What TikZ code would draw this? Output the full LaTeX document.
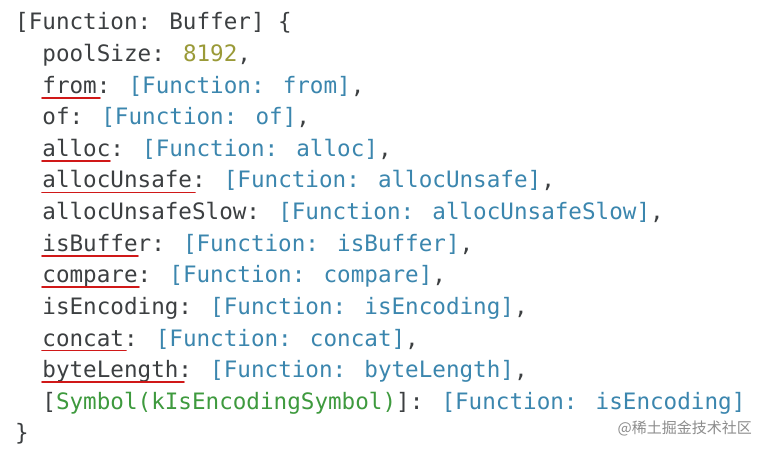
\documentclass[tikz,border=0pt]{standalone}
\usepackage{fontspec}
\newfontfamily\mono{DejaVu Sans Mono}
\newfontfamily\cjk{Noto Sans CJK SC}
\definecolor{txt}{HTML}{3C3F41}
\definecolor{num}{HTML}{9A9A38}
\definecolor{fn}{HTML}{3B86AE}
\definecolor{sym}{HTML}{3E9A3E}
\definecolor{ul}{HTML}{D01818}
\tikzset{x=1pt,y=-1pt,
 code/.style={anchor=base west,inner sep=0,font=\mono\fontsize{22.6}{24}\selectfont,text=txt},
 uline/.style={draw=ul,line width=1.8pt,line cap=round}}
\newcommand\F[1]{\textcolor{fn}{#1}}
\begin{document}
\begin{tikzpicture}
\fill[white] (0,0) rectangle (768,449);
\def\lh{31.6}
\node[code] (l0) at (15,30) {[Function: Buffer] \{};
\node[code] (l1) at (15,30+1*\lh) {\ \ poolSize: \textcolor{num}{8192},};
\node[code] (l2) at (15,30+2*\lh) {\ \ from: \F{[Function: from]},};
\node[code] (l3) at (15,30+3*\lh) {\ \ of: \F{[Function: of]},};
\node[code] (l4) at (15,30+4*\lh) {\ \ alloc: \F{[Function: alloc]},};
\node[code] (l5) at (15,30+5*\lh) {\ \ allocUnsafe: \F{[Function: allocUnsafe]},};
\node[code] (l6) at (15,30+6*\lh) {\ \ allocUnsafeSlow: \F{[Function: allocUnsafeSlow]},};
\node[code] (l7) at (15,30+7*\lh) {\ \ isBuffer: \F{[Function: isBuffer]},};
\node[code] (l8) at (15,30+8*\lh) {\ \ compare: \F{[Function: compare]},};
\node[code] (l9) at (15,30+9*\lh) {\ \ isEncoding: \F{[Function: isEncoding]},};
\node[code] (l10) at (15,30+10*\lh) {\ \ concat: \F{[Function: concat]},};
\node[code] (l11) at (15,30+11*\lh) {\ \ byteLength: \F{[Function: byteLength]},};
\node[code] (l12) at (15,30+12*\lh) {\ \ [\textcolor{sym}{Symbol(kIsEncodingSymbol)}]: \F{[Function: isEncoding]}};
\node[code] (l13) at (15,30+13*\lh) {\}};
\node[anchor=base east,inner sep=0,font=\cjk\fontsize{15}{16}\selectfont,text=black!45] (wm) at (752,433) {@稀土掘金技术社区};
\foreach \i/\w in {2/58,4/68,5/153,7/96,8/97,10/84,11/142}{
  \draw[uline] (42,30+\i*\lh+4.5) -- ++(\w,0);
}
\end{tikzpicture}
\end{document}
